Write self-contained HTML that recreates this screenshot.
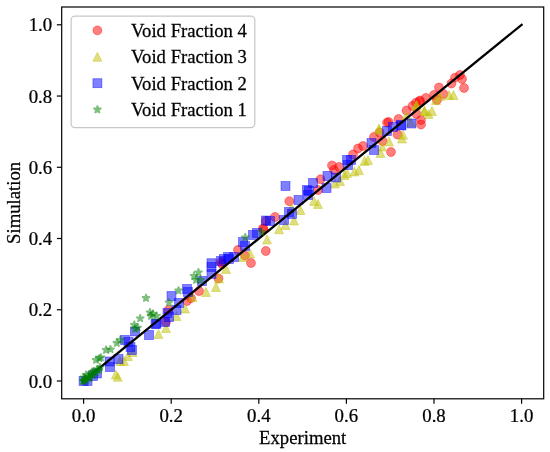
<!DOCTYPE html>
<html><head><meta charset="utf-8"><style>html,body{margin:0;padding:0;background:#fff;width:550px;height:452px;overflow:hidden}</style></head><body>
<svg width="550" height="452" viewBox="0 0 550 452" style="display:block">
<rect width="550" height="452" fill="#fff"/>
<clipPath id="c"><rect x="61.70" y="7.00" width="482.00" height="391.80"/></clipPath>
<g clip-path="url(#c)">
<g fill="#ff0000" fill-opacity=".5" stroke="#ff0000" stroke-opacity=".5" stroke-width="0.8" stroke-linejoin="miter"><circle cx="199.00" cy="291.00" r="4.460"/><circle cx="218.50" cy="278.50" r="4.460"/><circle cx="222.00" cy="264.00" r="4.460"/><circle cx="191.00" cy="298.00" r="4.460"/><circle cx="238.00" cy="250.00" r="4.460"/><circle cx="245.00" cy="255.50" r="4.460"/><circle cx="251.00" cy="263.00" r="4.460"/><circle cx="265.80" cy="251.00" r="4.460"/><circle cx="263.50" cy="229.50" r="4.460"/><circle cx="221.00" cy="262.00" r="4.460"/><circle cx="265.80" cy="221.00" r="4.460"/><circle cx="289.30" cy="201.20" r="4.460"/><circle cx="275.00" cy="217.00" r="4.460"/><circle cx="263.00" cy="228.40" r="4.460"/><circle cx="318.00" cy="190.00" r="4.460"/><circle cx="332.00" cy="165.50" r="4.460"/><circle cx="339.00" cy="167.00" r="4.460"/><circle cx="334.00" cy="170.00" r="4.460"/><circle cx="320.50" cy="179.30" r="4.460"/><circle cx="387.00" cy="122.60" r="4.460"/><circle cx="374.00" cy="137.00" r="4.460"/><circle cx="379.50" cy="132.50" r="4.460"/><circle cx="358.00" cy="148.50" r="4.460"/><circle cx="363.00" cy="146.00" r="4.460"/><circle cx="391.00" cy="152.00" r="4.460"/><circle cx="353.00" cy="154.50" r="4.460"/><circle cx="382.50" cy="141.00" r="4.460"/><circle cx="425.80" cy="98.00" r="4.460"/><circle cx="420.00" cy="100.50" r="4.460"/><circle cx="412.50" cy="106.00" r="4.460"/><circle cx="406.50" cy="110.50" r="4.460"/><circle cx="398.50" cy="119.00" r="4.460"/><circle cx="397.50" cy="134.50" r="4.460"/><circle cx="416.00" cy="102.70" r="4.460"/><circle cx="388.60" cy="122.00" r="4.460"/><circle cx="416.50" cy="114.00" r="4.460"/><circle cx="421.00" cy="120.00" r="4.460"/><circle cx="421.00" cy="124.50" r="4.460"/><circle cx="460.00" cy="75.00" r="4.460"/><circle cx="462.00" cy="79.00" r="4.460"/><circle cx="455.00" cy="77.60" r="4.460"/><circle cx="451.50" cy="83.50" r="4.460"/><circle cx="464.00" cy="88.00" r="4.460"/><circle cx="439.00" cy="87.50" r="4.460"/><circle cx="434.00" cy="95.00" r="4.460"/><circle cx="443.50" cy="94.00" r="4.460"/><circle cx="419.60" cy="101.50" r="4.460"/><circle cx="437.00" cy="100.00" r="4.460"/><circle cx="168.50" cy="310.00" r="4.460"/><circle cx="187.00" cy="301.00" r="4.460"/><circle cx="166.00" cy="322.00" r="4.460"/></g>

<g fill="#bfbf00" fill-opacity=".5" stroke="#bfbf00" stroke-opacity=".5" stroke-width="0.8" stroke-linejoin="miter"><path d="M115.80 370.04L111.34 378.96L120.26 378.96Z"/><path d="M117.80 372.34L113.34 381.26L122.26 381.26Z"/><path d="M120.00 356.54L115.54 365.46L124.46 365.46Z"/><path d="M132.50 347.54L128.04 356.46L136.96 356.46Z"/><path d="M128.00 351.54L123.54 360.46L132.46 360.46Z"/><path d="M124.00 356.54L119.54 365.46L128.46 365.46Z"/><path d="M158.50 329.54L154.04 338.46L162.96 338.46Z"/><path d="M166.00 323.54L161.54 332.46L170.46 332.46Z"/><path d="M176.50 311.54L172.04 320.46L180.96 320.46Z"/><path d="M185.00 304.04L180.54 312.96L189.46 312.96Z"/><path d="M206.00 287.54L201.54 296.46L210.46 296.46Z"/><path d="M216.00 282.54L211.54 291.46L220.46 291.46Z"/><path d="M226.00 264.54L221.54 273.46L230.46 273.46Z"/><path d="M192.60 292.54L188.14 301.46L197.06 301.46Z"/><path d="M219.00 274.04L214.54 282.96L223.46 282.96Z"/><path d="M250.00 249.04L245.54 257.96L254.46 257.96Z"/><path d="M267.00 235.04L262.54 243.96L271.46 243.96Z"/><path d="M243.00 252.54L238.54 261.46L247.46 261.46Z"/><path d="M300.50 205.54L296.04 214.46L304.96 214.46Z"/><path d="M294.00 216.04L289.54 224.96L298.46 224.96Z"/><path d="M314.00 196.54L309.54 205.46L318.46 205.46Z"/><path d="M318.00 199.54L313.54 208.46L322.46 208.46Z"/><path d="M291.50 203.54L287.04 212.46L295.96 212.46Z"/><path d="M279.00 224.84L274.54 233.76L283.46 233.76Z"/><path d="M285.50 220.54L281.04 229.46L289.96 229.46Z"/><path d="M344.50 170.54L340.04 179.46L348.96 179.46Z"/><path d="M347.00 168.54L342.54 177.46L351.46 177.46Z"/><path d="M335.00 179.04L330.54 187.96L339.46 187.96Z"/><path d="M340.00 176.54L335.54 185.46L344.46 185.46Z"/><path d="M379.00 125.54L374.54 134.46L383.46 134.46Z"/><path d="M382.00 142.04L377.54 150.96L386.46 150.96Z"/><path d="M389.00 137.04L384.54 145.96L393.46 145.96Z"/><path d="M403.00 130.24L398.54 139.16L407.46 139.16Z"/><path d="M402.00 134.04L397.54 142.96L406.46 142.96Z"/><path d="M364.50 156.54L360.04 165.46L368.96 165.46Z"/><path d="M368.00 155.54L363.54 164.46L372.46 164.46Z"/><path d="M354.50 167.04L350.04 175.96L358.96 175.96Z"/><path d="M359.00 165.54L354.54 174.46L363.46 174.46Z"/><path d="M380.50 148.54L376.04 157.46L384.96 157.46Z"/><path d="M416.50 100.54L412.04 109.46L420.96 109.46Z"/><path d="M424.50 106.54L420.04 115.46L428.96 115.46Z"/><path d="M428.50 109.54L424.04 118.46L432.96 118.46Z"/><path d="M379.00 123.94L374.54 132.86L383.46 132.86Z"/><path d="M406.00 111.54L401.54 120.46L410.46 120.46Z"/><path d="M411.00 117.54L406.54 126.46L415.46 126.46Z"/><path d="M449.00 90.54L444.54 99.46L453.46 99.46Z"/><path d="M453.50 90.54L449.04 99.46L457.96 99.46Z"/><path d="M440.00 91.54L435.54 100.46L444.46 100.46Z"/><path d="M436.00 95.54L431.54 104.46L440.46 104.46Z"/><path d="M432.00 106.54L427.54 115.46L436.46 115.46Z"/><path d="M424.30 106.54L419.84 115.46L428.76 115.46Z"/><path d="M416.30 101.04L411.84 109.96L420.76 109.96Z"/></g>

<g fill="#0000ff" fill-opacity=".5" stroke="#0000ff" stroke-opacity=".5" stroke-width="0.8" stroke-linejoin="miter"><rect x="79.14" y="376.54" width="8.92" height="8.92"/><rect x="83.04" y="376.54" width="8.92" height="8.92"/><rect x="88.54" y="371.54" width="8.92" height="8.92"/><rect x="92.54" y="369.04" width="8.92" height="8.92"/><rect x="105.54" y="362.54" width="8.92" height="8.92"/><rect x="105.14" y="357.04" width="8.92" height="8.92"/><rect x="114.04" y="354.54" width="8.92" height="8.92"/><rect x="120.54" y="335.54" width="8.92" height="8.92"/><rect x="124.04" y="337.54" width="8.92" height="8.92"/><rect x="126.04" y="342.54" width="8.92" height="8.92"/><rect x="127.54" y="345.54" width="8.92" height="8.92"/><rect x="130.54" y="327.04" width="8.92" height="8.92"/><rect x="144.54" y="330.54" width="8.92" height="8.92"/><rect x="151.04" y="319.54" width="8.92" height="8.92"/><rect x="167.04" y="291.54" width="8.92" height="8.92"/><rect x="182.54" y="284.54" width="8.92" height="8.92"/><rect x="183.54" y="287.54" width="8.92" height="8.92"/><rect x="163.04" y="308.54" width="8.92" height="8.92"/><rect x="172.04" y="305.54" width="8.92" height="8.92"/><rect x="174.54" y="298.54" width="8.92" height="8.92"/><rect x="152.04" y="319.24" width="8.92" height="8.92"/><rect x="160.54" y="317.54" width="8.92" height="8.92"/><rect x="164.54" y="312.54" width="8.92" height="8.92"/><rect x="207.04" y="258.74" width="8.92" height="8.92"/><rect x="207.04" y="269.44" width="8.92" height="8.92"/><rect x="219.54" y="254.54" width="8.92" height="8.92"/><rect x="223.54" y="252.54" width="8.92" height="8.92"/><rect x="197.54" y="276.54" width="8.92" height="8.92"/><rect x="261.54" y="216.04" width="8.92" height="8.92"/><rect x="248.54" y="230.54" width="8.92" height="8.92"/><rect x="252.54" y="228.54" width="8.92" height="8.92"/><rect x="238.54" y="237.54" width="8.92" height="8.92"/><rect x="240.54" y="241.54" width="8.92" height="8.92"/><rect x="224.54" y="254.54" width="8.92" height="8.92"/><rect x="229.54" y="252.54" width="8.92" height="8.92"/><rect x="207.04" y="262.54" width="8.92" height="8.92"/><rect x="216.54" y="256.54" width="8.92" height="8.92"/><rect x="281.04" y="181.54" width="8.92" height="8.92"/><rect x="294.04" y="195.54" width="8.92" height="8.92"/><rect x="302.54" y="185.54" width="8.92" height="8.92"/><rect x="303.54" y="190.54" width="8.92" height="8.92"/><rect x="284.54" y="207.54" width="8.92" height="8.92"/><rect x="287.54" y="209.54" width="8.92" height="8.92"/><rect x="265.54" y="216.54" width="8.92" height="8.92"/><rect x="279.54" y="215.54" width="8.92" height="8.92"/><rect x="342.54" y="155.54" width="8.92" height="8.92"/><rect x="343.54" y="160.54" width="8.92" height="8.92"/><rect x="323.04" y="171.54" width="8.92" height="8.92"/><rect x="331.54" y="173.04" width="8.92" height="8.92"/><rect x="322.04" y="183.54" width="8.92" height="8.92"/><rect x="308.54" y="178.54" width="8.92" height="8.92"/><rect x="304.54" y="186.54" width="8.92" height="8.92"/><rect x="346.54" y="155.54" width="8.92" height="8.92"/><rect x="367.04" y="138.54" width="8.92" height="8.92"/><rect x="369.54" y="145.54" width="8.92" height="8.92"/><rect x="382.54" y="126.54" width="8.92" height="8.92"/><rect x="396.54" y="120.54" width="8.92" height="8.92"/><rect x="397.04" y="121.04" width="8.92" height="8.92"/><rect x="407.04" y="119.04" width="8.92" height="8.92"/><rect x="388.54" y="122.54" width="8.92" height="8.92"/></g>

<path d="M83.60 381.00L521.60 24.80" stroke="#000" stroke-width="2.3" stroke-linecap="square" fill="none"/>
<g fill="#008000" fill-opacity=".5" stroke="#008000" stroke-opacity=".5" stroke-width="0.8" stroke-linejoin="miter"><polygon points="83.60,376.83 82.66,379.71 79.64,379.71 82.09,381.49 81.15,384.37 83.60,382.59 86.05,384.37 85.11,381.49 87.56,379.71 84.54,379.71" stroke-linejoin="bevel" stroke-width="1.39" fill-opacity="1" stroke-opacity="1" opacity=".5"/><polygon points="83.60,376.83 82.66,379.71 79.64,379.71 82.09,381.49 81.15,384.37 83.60,382.59 86.05,384.37 85.11,381.49 87.56,379.71 84.54,379.71" stroke-linejoin="bevel" stroke-width="1.39" fill-opacity="1" stroke-opacity="1" opacity=".5"/><polygon points="83.60,376.83 82.66,379.71 79.64,379.71 82.09,381.49 81.15,384.37 83.60,382.59 86.05,384.37 85.11,381.49 87.56,379.71 84.54,379.71" stroke-linejoin="bevel" stroke-width="1.39" fill-opacity="1" stroke-opacity="1" opacity=".5"/><polygon points="84.00,373.33 83.06,376.21 80.04,376.21 82.49,377.99 81.55,380.87 84.00,379.09 86.45,380.87 85.51,377.99 87.96,376.21 84.94,376.21" stroke-linejoin="bevel" stroke-width="1.39" fill-opacity="1" stroke-opacity="1" opacity=".5"/><polygon points="86.50,375.33 85.56,378.21 82.54,378.21 84.99,379.99 84.05,382.87 86.50,381.09 88.95,382.87 88.01,379.99 90.46,378.21 87.44,378.21" stroke-linejoin="bevel" stroke-width="1.39" fill-opacity="1" stroke-opacity="1" opacity=".5"/><polygon points="88.00,371.83 87.06,374.71 84.04,374.71 86.49,376.49 85.55,379.37 88.00,377.59 90.45,379.37 89.51,376.49 91.96,374.71 88.94,374.71" stroke-linejoin="bevel" stroke-width="1.39" fill-opacity="1" stroke-opacity="1" opacity=".5"/><polygon points="86.00,370.83 85.06,373.71 82.04,373.71 84.49,375.49 83.55,378.37 86.00,376.59 88.45,378.37 87.51,375.49 89.96,373.71 86.94,373.71" stroke-linejoin="bevel" stroke-width="1.39" fill-opacity="1" stroke-opacity="1" opacity=".5"/><polygon points="90.00,373.33 89.06,376.21 86.04,376.21 88.49,377.99 87.55,380.87 90.00,379.09 92.45,380.87 91.51,377.99 93.96,376.21 90.94,376.21" stroke-linejoin="bevel" stroke-width="1.39" fill-opacity="1" stroke-opacity="1" opacity=".5"/><polygon points="91.00,369.83 90.06,372.71 87.04,372.71 89.49,374.49 88.55,377.37 91.00,375.59 93.45,377.37 92.51,374.49 94.96,372.71 91.94,372.71" stroke-linejoin="bevel" stroke-width="1.39" fill-opacity="1" stroke-opacity="1" opacity=".5"/><polygon points="93.00,370.83 92.06,373.71 89.04,373.71 91.49,375.49 90.55,378.37 93.00,376.59 95.45,378.37 94.51,375.49 96.96,373.71 93.94,373.71" stroke-linejoin="bevel" stroke-width="1.39" fill-opacity="1" stroke-opacity="1" opacity=".5"/><polygon points="94.00,367.33 93.06,370.21 90.04,370.21 92.49,371.99 91.55,374.87 94.00,373.09 96.45,374.87 95.51,371.99 97.96,370.21 94.94,370.21" stroke-linejoin="bevel" stroke-width="1.39" fill-opacity="1" stroke-opacity="1" opacity=".5"/><polygon points="96.00,368.33 95.06,371.21 92.04,371.21 94.49,372.99 93.55,375.87 96.00,374.09 98.45,375.87 97.51,372.99 99.96,371.21 96.94,371.21" stroke-linejoin="bevel" stroke-width="1.39" fill-opacity="1" stroke-opacity="1" opacity=".5"/><polygon points="97.50,365.33 96.56,368.21 93.54,368.21 95.99,369.99 95.05,372.87 97.50,371.09 99.95,372.87 99.01,369.99 101.46,368.21 98.44,368.21" stroke-linejoin="bevel" stroke-width="1.39" fill-opacity="1" stroke-opacity="1" opacity=".5"/><polygon points="99.00,365.83 98.06,368.71 95.04,368.71 97.49,370.49 96.55,373.37 99.00,371.59 101.45,373.37 100.51,370.49 102.96,368.71 99.94,368.71" stroke-linejoin="bevel" stroke-width="1.39" fill-opacity="1" stroke-opacity="1" opacity=".5"/><polygon points="100.00,363.33 99.06,366.21 96.04,366.21 98.49,367.99 97.55,370.87 100.00,369.09 102.45,370.87 101.51,367.99 103.96,366.21 100.94,366.21" stroke-linejoin="bevel" stroke-width="1.39" fill-opacity="1" stroke-opacity="1" opacity=".5"/><polygon points="85.00,374.83 84.06,377.71 81.04,377.71 83.49,379.49 82.55,382.37 85.00,380.59 87.45,382.37 86.51,379.49 88.96,377.71 85.94,377.71" stroke-linejoin="bevel" stroke-width="1.39" fill-opacity="1" stroke-opacity="1" opacity=".5"/><polygon points="89.00,373.83 88.06,376.71 85.04,376.71 87.49,378.49 86.55,381.37 89.00,379.59 91.45,381.37 90.51,378.49 92.96,376.71 89.94,376.71" stroke-linejoin="bevel" stroke-width="1.39" fill-opacity="1" stroke-opacity="1" opacity=".5"/><polygon points="92.00,367.83 91.06,370.71 88.04,370.71 90.49,372.49 89.55,375.37 92.00,373.59 94.45,375.37 93.51,372.49 95.96,370.71 92.94,370.71" stroke-linejoin="bevel" stroke-width="1.39" fill-opacity="1" stroke-opacity="1" opacity=".5"/><polygon points="99.40,354.13 98.46,357.01 95.44,357.01 97.89,358.79 96.95,361.67 99.40,359.89 101.85,361.67 100.91,358.79 103.36,357.01 100.34,357.01" stroke-linejoin="bevel" stroke-width="1.39" fill-opacity="1" stroke-opacity="1" opacity=".5"/><polygon points="106.00,345.83 105.06,348.71 102.04,348.71 104.49,350.49 103.55,353.37 106.00,351.59 108.45,353.37 107.51,350.49 109.96,348.71 106.94,348.71" stroke-linejoin="bevel" stroke-width="1.39" fill-opacity="1" stroke-opacity="1" opacity=".5"/><polygon points="110.50,345.23 109.56,348.11 106.54,348.11 108.99,349.89 108.05,352.77 110.50,350.99 112.95,352.77 112.01,349.89 114.46,348.11 111.44,348.11" stroke-linejoin="bevel" stroke-width="1.39" fill-opacity="1" stroke-opacity="1" opacity=".5"/><polygon points="116.80,338.83 115.86,341.71 112.84,341.71 115.29,343.49 114.35,346.37 116.80,344.59 119.25,346.37 118.31,343.49 120.76,341.71 117.74,341.71" stroke-linejoin="bevel" stroke-width="1.39" fill-opacity="1" stroke-opacity="1" opacity=".5"/><polygon points="120.30,335.83 119.36,338.71 116.34,338.71 118.79,340.49 117.85,343.37 120.30,341.59 122.75,343.37 121.81,340.49 124.26,338.71 121.24,338.71" stroke-linejoin="bevel" stroke-width="1.39" fill-opacity="1" stroke-opacity="1" opacity=".5"/><polygon points="96.00,355.83 95.06,358.71 92.04,358.71 94.49,360.49 93.55,363.37 96.00,361.59 98.45,363.37 97.51,360.49 99.96,358.71 96.94,358.71" stroke-linejoin="bevel" stroke-width="1.39" fill-opacity="1" stroke-opacity="1" opacity=".5"/><polygon points="101.00,353.44 100.06,356.31 97.04,356.31 99.49,358.09 98.55,360.97 101.00,359.19 103.45,360.97 102.51,358.09 104.96,356.31 101.94,356.31" stroke-linejoin="bevel" stroke-width="1.39" fill-opacity="1" stroke-opacity="1" opacity=".5"/><polygon points="134.30,320.83 133.36,323.71 130.34,323.71 132.79,325.49 131.85,328.37 134.30,326.59 136.75,328.37 135.81,325.49 138.26,323.71 135.24,323.71" stroke-linejoin="bevel" stroke-width="1.39" fill-opacity="1" stroke-opacity="1" opacity=".5"/><polygon points="137.60,323.53 136.66,326.41 133.64,326.41 136.09,328.19 135.15,331.07 137.60,329.29 140.05,331.07 139.11,328.19 141.56,326.41 138.54,326.41" stroke-linejoin="bevel" stroke-width="1.39" fill-opacity="1" stroke-opacity="1" opacity=".5"/><polygon points="135.00,324.83 134.06,327.71 131.04,327.71 133.49,329.49 132.55,332.37 135.00,330.59 137.45,332.37 136.51,329.49 138.96,327.71 135.94,327.71" stroke-linejoin="bevel" stroke-width="1.39" fill-opacity="1" stroke-opacity="1" opacity=".5"/><polygon points="140.20,314.23 139.26,317.11 136.24,317.11 138.69,318.89 137.75,321.77 140.20,319.99 142.65,321.77 141.71,318.89 144.16,317.11 141.14,317.11" stroke-linejoin="bevel" stroke-width="1.39" fill-opacity="1" stroke-opacity="1" opacity=".5"/><polygon points="146.00,293.94 145.06,296.81 142.04,296.81 144.49,298.59 143.55,301.47 146.00,299.69 148.45,301.47 147.51,298.59 149.96,296.81 146.94,296.81" stroke-linejoin="bevel" stroke-width="1.39" fill-opacity="1" stroke-opacity="1" opacity=".5"/><polygon points="150.00,308.33 149.06,311.21 146.04,311.21 148.49,312.99 147.55,315.87 150.00,314.09 152.45,315.87 151.51,312.99 153.96,311.21 150.94,311.21" stroke-linejoin="bevel" stroke-width="1.39" fill-opacity="1" stroke-opacity="1" opacity=".5"/><polygon points="153.00,309.83 152.06,312.71 149.04,312.71 151.49,314.49 150.55,317.37 153.00,315.59 155.45,317.37 154.51,314.49 156.96,312.71 153.94,312.71" stroke-linejoin="bevel" stroke-width="1.39" fill-opacity="1" stroke-opacity="1" opacity=".5"/><polygon points="151.00,311.83 150.06,314.71 147.04,314.71 149.49,316.49 148.55,319.37 151.00,317.59 153.45,319.37 152.51,316.49 154.96,314.71 151.94,314.71" stroke-linejoin="bevel" stroke-width="1.39" fill-opacity="1" stroke-opacity="1" opacity=".5"/><polygon points="156.60,311.83 155.66,314.71 152.64,314.71 155.09,316.49 154.15,319.37 156.60,317.59 159.05,319.37 158.11,316.49 160.56,314.71 157.54,314.71" stroke-linejoin="bevel" stroke-width="1.39" fill-opacity="1" stroke-opacity="1" opacity=".5"/><polygon points="169.00,298.44 168.06,301.31 165.04,301.31 167.49,303.09 166.55,305.97 169.00,304.19 171.45,305.97 170.51,303.09 172.96,301.31 169.94,301.31" stroke-linejoin="bevel" stroke-width="1.39" fill-opacity="1" stroke-opacity="1" opacity=".5"/><polygon points="178.50,286.44 177.56,289.31 174.54,289.31 176.99,291.09 176.05,293.97 178.50,292.19 180.95,293.97 180.01,291.09 182.46,289.31 179.44,289.31" stroke-linejoin="bevel" stroke-width="1.39" fill-opacity="1" stroke-opacity="1" opacity=".5"/><polygon points="194.00,271.83 193.06,274.71 190.04,274.71 192.49,276.49 191.55,279.37 194.00,277.59 196.45,279.37 195.51,276.49 197.96,274.71 194.94,274.71" stroke-linejoin="bevel" stroke-width="1.39" fill-opacity="1" stroke-opacity="1" opacity=".5"/><polygon points="198.50,268.33 197.56,271.21 194.54,271.21 196.99,272.99 196.05,275.87 198.50,274.09 200.95,275.87 200.01,272.99 202.46,271.21 199.44,271.21" stroke-linejoin="bevel" stroke-width="1.39" fill-opacity="1" stroke-opacity="1" opacity=".5"/><polygon points="196.00,275.83 195.06,278.71 192.04,278.71 194.49,280.49 193.55,283.37 196.00,281.59 198.45,283.37 197.51,280.49 199.96,278.71 196.94,278.71" stroke-linejoin="bevel" stroke-width="1.39" fill-opacity="1" stroke-opacity="1" opacity=".5"/><polygon points="200.50,275.83 199.56,278.71 196.54,278.71 198.99,280.49 198.05,283.37 200.50,281.59 202.95,283.37 202.01,280.49 204.46,278.71 201.44,278.71" stroke-linejoin="bevel" stroke-width="1.39" fill-opacity="1" stroke-opacity="1" opacity=".5"/><polygon points="245.20,233.34 244.26,236.21 241.24,236.21 243.69,237.99 242.75,240.87 245.20,239.09 247.65,240.87 246.71,237.99 249.16,236.21 246.14,236.21" stroke-linejoin="bevel" stroke-width="1.39" fill-opacity="1" stroke-opacity="1" opacity=".5"/><polygon points="261.50,227.84 260.56,230.71 257.54,230.71 259.99,232.49 259.05,235.37 261.50,233.59 263.95,235.37 263.01,232.49 265.46,230.71 262.44,230.71" stroke-linejoin="bevel" stroke-width="1.39" fill-opacity="1" stroke-opacity="1" opacity=".5"/></g>

</g>
<rect x="61.70" y="7.00" width="482.00" height="391.80" fill="none" stroke="#000" stroke-width="1.2" stroke-linejoin="miter"/>
<g stroke="#000" stroke-width="1.2"><path d="M83.60 398.80v4.86"/><path d="M61.70 381.00h-4.86"/><path d="M171.20 398.80v4.86"/><path d="M61.70 309.76h-4.86"/><path d="M258.80 398.80v4.86"/><path d="M61.70 238.52h-4.86"/><path d="M346.40 398.80v4.86"/><path d="M61.70 167.28h-4.86"/><path d="M434.00 398.80v4.86"/><path d="M61.70 96.04h-4.86"/><path d="M521.60 398.80v4.86"/><path d="M61.70 24.80h-4.86"/></g>
<g font-family="Liberation Serif, serif" font-size="19.44px" fill="#000" stroke="#000" stroke-width="0.25"><text transform="translate(83.60 421.70) scale(0.97 1)" text-anchor="middle">0.0</text><text transform="translate(52.20 387.60) scale(0.97 1)" text-anchor="end">0.0</text><text transform="translate(171.20 421.70) scale(0.97 1)" text-anchor="middle">0.2</text><text transform="translate(52.20 316.36) scale(0.97 1)" text-anchor="end">0.2</text><text transform="translate(258.80 421.70) scale(0.97 1)" text-anchor="middle">0.4</text><text transform="translate(52.20 245.12) scale(0.97 1)" text-anchor="end">0.4</text><text transform="translate(346.40 421.70) scale(0.97 1)" text-anchor="middle">0.6</text><text transform="translate(52.20 173.88) scale(0.97 1)" text-anchor="end">0.6</text><text transform="translate(434.00 421.70) scale(0.97 1)" text-anchor="middle">0.8</text><text transform="translate(52.20 102.64) scale(0.97 1)" text-anchor="end">0.8</text><text transform="translate(521.60 421.70) scale(0.97 1)" text-anchor="middle">1.0</text><text transform="translate(52.20 31.40) scale(0.97 1)" text-anchor="end">1.0</text><text transform="translate(302.70 443.6) scale(0.962 1)" text-anchor="middle">Experiment</text><text transform="translate(19.9 202.90) rotate(-90) scale(0.962 1)" text-anchor="middle">Simulation</text></g>
<rect x="71.1" y="16.0" width="183.70000000000002" height="111.6" rx="3.9" fill="#fff" fill-opacity="0.8" stroke="#c8c8c8" stroke-width="1.25"/>
<g fill="#ff0000" fill-opacity=".5" stroke="#ff0000" stroke-opacity=".5" stroke-width="0.8" stroke-linejoin="miter"><circle cx="97.40" cy="30.40" r="4.460"/></g>

<text transform="translate(131.0 36.80) scale(0.962 1)" font-family="Liberation Serif, serif" font-size="19.44px" stroke="#000" stroke-width="0.25">Void Fraction 4</text>
<g fill="#bfbf00" fill-opacity=".5" stroke="#bfbf00" stroke-opacity=".5" stroke-width="0.8" stroke-linejoin="miter"><path d="M97.40 52.34L92.94 61.26L101.86 61.26Z"/></g>

<text transform="translate(131.0 63.20) scale(0.962 1)" font-family="Liberation Serif, serif" font-size="19.44px" stroke="#000" stroke-width="0.25">Void Fraction 3</text>
<g fill="#0000ff" fill-opacity=".5" stroke="#0000ff" stroke-opacity=".5" stroke-width="0.8" stroke-linejoin="miter"><rect x="92.94" y="78.74" width="8.92" height="8.92"/></g>

<text transform="translate(131.0 89.60) scale(0.962 1)" font-family="Liberation Serif, serif" font-size="19.44px" stroke="#000" stroke-width="0.25">Void Fraction 2</text>
<g fill="#008000" fill-opacity=".5" stroke="#008000" stroke-opacity=".5" stroke-width="0.8" stroke-linejoin="miter"><polygon points="97.40,105.43 96.46,108.31 93.44,108.31 95.89,110.09 94.95,112.97 97.40,111.19 99.85,112.97 98.91,110.09 101.36,108.31 98.34,108.31" stroke-linejoin="bevel" stroke-width="1.39" fill-opacity="1" stroke-opacity="1" opacity=".5"/></g>

<text transform="translate(131.0 116.00) scale(0.962 1)" font-family="Liberation Serif, serif" font-size="19.44px" stroke="#000" stroke-width="0.25">Void Fraction 1</text>
</svg>
</body></html>
